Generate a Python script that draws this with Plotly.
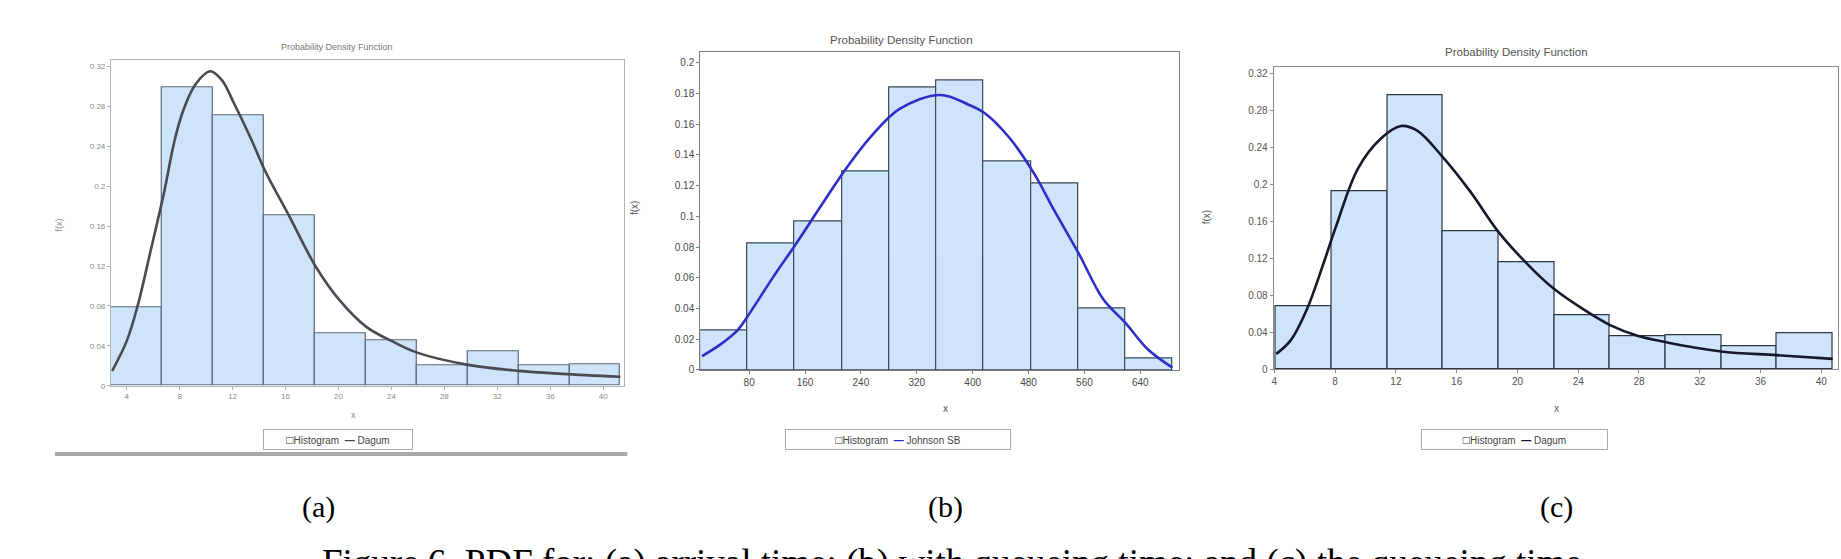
import numpy as np
import plotly.graph_objects as go

W, H = 1841, 559

# ---------------- data ----------------
# (a) arrival time - Dagum
A_edges = [2.8, 6.65, 10.5, 14.35, 18.2, 22.05, 25.9, 29.75, 33.6, 37.45, 41.3]
A_density = [0.079, 0.299, 0.271, 0.171, 0.053, 0.046, 0.021, 0.035, 0.021, 0.022]
A_curve_x = [2.9, 4.0, 4.8, 5.8, 6.84, 7.6, 8.3, 9.2, 10.3, 11.2, 12.1, 13.3, 14.5,
             16.2, 18.3, 20.0, 22.1, 24.3, 26.0, 29.8, 33.6, 36.9, 41.3]
A_curve_y = [0.015, 0.045, 0.079, 0.135, 0.195, 0.245, 0.277, 0.302, 0.315, 0.306,
             0.283, 0.25, 0.214, 0.172, 0.119, 0.087, 0.059, 0.043, 0.033, 0.021,
             0.015, 0.012, 0.009]
A_xticks = [4, 8, 12, 16, 20, 24, 28, 32, 36, 40]
A_yticks = [0, 0.04, 0.08, 0.12, 0.16, 0.2, 0.24, 0.28, 0.32]
A_ytext = ["0", "0.04", "0.08", "0.12", "0.16", "0.2", "0.24", "0.28", "0.32"]

# (b) Johnson SB
B_edges = [10, 77.6, 145.2, 212.8, 280.4, 348, 415.6, 483.2, 550.8, 618.4, 686]
B_density = [0.026, 0.0826, 0.097, 0.129, 0.184, 0.1886, 0.1355, 0.1215, 0.040, 0.0073]
B_curve_x = [12.6, 40, 63.6, 80.8, 114.6, 148.4, 184.6, 219.6, 254.6, 295.4, 353.7,
             395, 417.9, 452.9, 487.8, 517, 552, 587, 619, 651, 686]
B_curve_y = [0.009, 0.017, 0.026, 0.037, 0.0606, 0.083, 0.108, 0.1316, 0.152, 0.170,
             0.179, 0.1725, 0.167, 0.151, 0.128, 0.1037, 0.0757, 0.0460, 0.0305,
             0.0133, 0.0015]
B_xticks = [80, 160, 240, 320, 400, 480, 560, 640]
B_yticks = [0, 0.02, 0.04, 0.06, 0.08, 0.1, 0.12, 0.14, 0.16, 0.18, 0.2]
B_ytext = ["0", "0.02", "0.04", "0.06", "0.08", "0.1", "0.12", "0.14", "0.16", "0.18", "0.2"]

# (c) Dagum
C_edges = [4.1, 7.765, 11.43, 15.1, 18.76, 22.43, 26.09, 29.76, 33.42, 37.09, 40.75]
C_density = [0.068, 0.192, 0.296, 0.149, 0.115, 0.058, 0.035, 0.037, 0.025, 0.039]
C_curve_x = [4.13, 5.07, 6.15, 7.22, 8.03, 9.5, 10.98, 12.33, 13.4, 15.0, 16.9, 18.72,
             20.65, 22.4, 24.3, 26.1, 27.9, 29.78, 33.4, 37.04, 40.75]
C_curve_y = [0.0164, 0.031, 0.065, 0.1136, 0.153, 0.217, 0.249, 0.263, 0.258, 0.231,
             0.192, 0.149, 0.1136, 0.0868, 0.065, 0.0475, 0.036, 0.029, 0.019, 0.015, 0.011]
C_xticks = [4, 8, 12, 16, 20, 24, 28, 32, 36, 40]
C_yticks = [0, 0.04, 0.08, 0.12, 0.16, 0.2, 0.24, 0.28, 0.32]
C_ytext = ["0", "0.04", "0.08", "0.12", "0.16", "0.2", "0.24", "0.28", "0.32"]

TITLE = "Probability Density Function"
LEGEND_A = "Dagum"
LEGEND_B = "Johnson SB"
LEGEND_C = "Dagum"
PANEL_LABELS = ["(a)", "(b)", "(c)"]
CAPTION = "Figure 6. PDF for: (a) arrival time; (b) with queueing time; and (c) the queueing time."

# ---------------- helpers ----------------
def px(x):
    return x / W

def py(y):
    return 1 - y / H

BAR_FILL = "#cde4fa"

fig = go.Figure()

def add_panel(edges, dens, cx, cy, xa, ya, edge_col, curve_col):
    e = np.array(edges, dtype=float)
    centers = (e[:-1] + e[1:]) / 2
    widths = np.diff(e)
    fig.add_trace(go.Bar(x=centers, y=dens, width=widths, xaxis=xa, yaxis=ya,
                         marker=dict(color=BAR_FILL, line=dict(color=edge_col, width=1.2)),
                         hoverinfo="skip"))
    fig.add_trace(go.Scatter(x=cx, y=cy, mode="lines", xaxis=xa, yaxis=ya,
                             line=dict(color=curve_col, width=2.6, shape="spline", smoothing=1.0),
                             hoverinfo="skip"))

add_panel(A_edges, A_density, A_curve_x, A_curve_y, "x", "y", "#5c6a7e", "#4a4a52")
add_panel(B_edges, B_density, B_curve_x, B_curve_y, "x2", "y2", "#3c4858", "#2e2ec8")
add_panel(C_edges, C_density, C_curve_x, C_curve_y, "x3", "y3", "#2f3846", "#18182c")

def axis(domain, rng, tickvals, ticktext, anchor, linecol, fsize, fcol):
    d = dict(domain=domain, range=rng, tickvals=tickvals, anchor=anchor,
             showgrid=False, zeroline=False, showline=True, mirror=True,
             linecolor=linecol, linewidth=1, ticks="outside", ticklen=3,
             tickcolor=linecol, tickfont=dict(family="Liberation Sans", size=fsize, color=fcol),
             fixedrange=True)
    if ticktext is not None:
        d["ticktext"] = ticktext
    return d

layout = dict(
    width=W, height=H, autosize=False,
    margin=dict(l=0, r=0, t=0, b=0),
    paper_bgcolor="white", plot_bgcolor="white",
    showlegend=False, bargap=0,
    xaxis=axis([px(109), px(623)], [2.8, 41.6], A_xticks, None, "y", "#b4b4b4", 8, "#8a8a8a"),
    yaxis=axis([py(390), py(61)], [0, 0.326], A_yticks, A_ytext, "x", "#b4b4b4", 8, "#8a8a8a"),
    xaxis2=axis([px(699), px(1178)], [10, 695], B_xticks, None, "y2", "#7a7a7a", 10, "#4a4a4a"),
    yaxis2=axis([py(374), py(53)], [0, 0.2067], B_yticks, B_ytext, "x2", "#7a7a7a", 10, "#4a4a4a"),
    xaxis3=axis([px(1273), px(1838)], [3.95, 41.1], C_xticks, None, "y3", "#8a8a8a", 10, "#555555"),
    yaxis3=axis([py(373), py(68)], [0, 0.3266], C_yticks, C_ytext, "x3", "#8a8a8a", 10, "#555555"),
)
fig.update_layout(**layout)

ann = []
def text(x, y, s, size, color, family="Liberation Sans", angle=0, xanchor="center", yanchor="middle"):
    ann.append(dict(x=px(x), y=py(y), xref="paper", yref="paper", text=s, showarrow=False,
                    font=dict(family=family, size=size, color=color), textangle=angle,
                    xanchor=xanchor, yanchor=yanchor))

# titles
text(335, 48, TITLE, 9, "#777777")
text(900, 40, TITLE, 11.5, "#555555")
text(1516, 53, TITLE, 11.5, "#555555")
# axis titles
text(57, 227, "f(x)", 9, "#888888", angle=-90)
text(633, 210, "f(x)", 10, "#555555", angle=-90)
text(1206, 220, "f(x)", 10, "#555555", angle=-90)
text(352, 419, "x", 9, "#888888")
text(945, 413, "x", 10, "#555555")
text(1556, 413, "x", 10, "#555555")

# legends
def legend(cx, w, name, col):
    ann.append(dict(x=px(cx), y=py(444), xref="paper", yref="paper", showarrow=False,
                    text="<span style='font-size:12px'>\u25a1</span>Histogram  "
                         f"<span style='color:{col}'><b>\u2014</b></span> {name}",
                    font=dict(family="Liberation Sans", size=10, color="#444444"),
                    bordercolor="#aaaaaa", borderwidth=1, bgcolor="white",
                    width=w, height=17, align="center", xanchor="center", yanchor="middle"))

legend(336, 146, LEGEND_A, "#4a4a52")
legend(897, 222, LEGEND_B, "#2e2ec8")
legend(1514, 183, LEGEND_C, "#18182c")

# panel labels
for lx, lab in zip([317, 945, 1556], PANEL_LABELS):
    text(lx, 512, lab, 30, "black", family="Liberation Serif")

# caption (partly below the bottom edge, as in the source)
text(318, 569, CAPTION, 37, "black", family="Liberation Serif", xanchor="left")

fig.update_layout(annotations=ann)

# gray bottom border of panel (a) screenshot
fig.add_shape(type="line", xref="paper", yref="paper", x0=px(53), x1=px(626),
              y0=py(459), y1=py(459), line=dict(color="#a9a9a9", width=4))

fig.write_html("out.html", config={"displayModeBar": False},
               post_script="document.body.style.margin='0';document.body.style.overflow='hidden';")
